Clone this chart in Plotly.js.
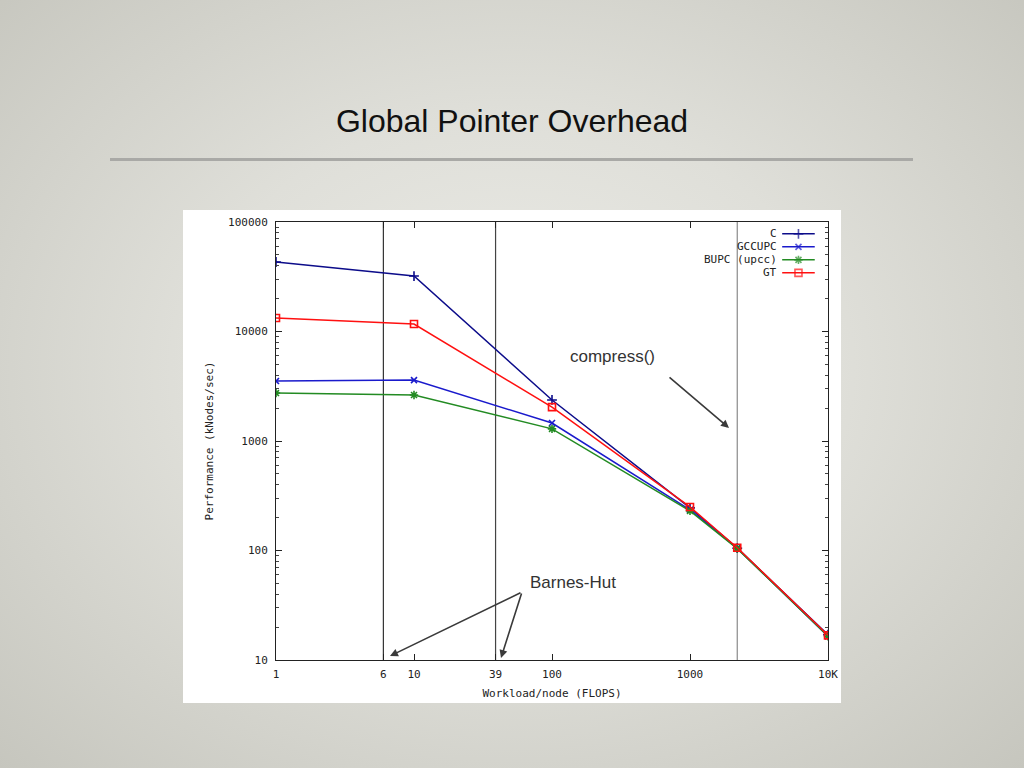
<!DOCTYPE html>
<html>
<head>
<meta charset="utf-8">
<script src="https://cdn.plot.ly/plotly-3.0.1.min.js"></script>
<style>
  html, body { margin: 0; padding: 0; }
  body {
    width: 1024px; height: 768px; overflow: hidden; position: relative;
    background: radial-gradient(ellipse at 50% 48%, #ececE7 0%, #dfdfd9 45%, #c6c6be 100%);
    font-family: "Liberation Sans", Arial, sans-serif;
  }
  #title {
    position: absolute; left: 0; width: 1024px; top: 103px;
    text-align: center; font-size: 32px; color: #111;
  }
  #rule {
    position: absolute; left: 110px; top: 158px; width: 803px; height: 3px;
    background: #a9a9a6;
  }
  #panel {
    position: absolute; left: 183px; top: 210px; width: 658px; height: 493px;
    background: #fff;
  }
</style>
</head>
<body>
<div id="title">Global Pointer Overhead</div>
<div id="rule"></div>
<div id="panel"></div>
<script>
(function () {
    'use strict';

    // workload per node (FLOPS)
    const workload = [1, 10, 100, 1000, 2200, 10000];

    // performance in kNodes/sec
    const perfC      = [43100, 32100, 2370, 245, 105, 17];
    const perfGccupc = [3530, 3600, 1460, 235, 105, 16.5];
    const perfBupc   = [2740, 2630, 1290, 230, 104, 16.5];
    const perfGT     = [13300, 11700, 2040, 250, 106, 16.8];

    const seriesNames = ['C', 'GCCUPC', 'BUPC (upcc)', 'GT'];

    // marker lines (Barnes-Hut at 6 and 39, compress() at ~2200)
    const markLines = [6, 39, 2200];
    const markColors = ['#333333', '#444444', '#8a8a8a'];

    const xTickVals = [1, 6, 10, 39, 100, 1000, 10000];
    const xTickText = ['1', '6', '10', '39', '100', '1000', '10K'];
    const yTickVals = [10, 100, 1000, 10000, 100000];
    const yTickText = ['10', '100', '1000', '10000', '100000'];

    const styles = [
        {color: '#0c0c8a', symbol: 'cross-thin-open', size: 7},
        {color: '#1a1acc', symbol: 'x-thin-open', size: 6},
        {color: '#238b23', symbol: 'asterisk-open', size: 7},
        {color: '#ff1010', symbol: 'square-open', size: 7}
    ];
    const perf = [perfC, perfGccupc, perfBupc, perfGT];

    // minor ticks 2..9 of each decade on the y axis
    const yMinor = [];
    for (let d = 10; d < 100000; d *= 10) {
        for (let k = 2; k < 10; k++) yMinor.push(k * d);
    }

    const monoFont = {family: 'DejaVu Sans Mono, monospace', size: 11, color: '#222'};

    const data = [];
    markLines.forEach(function (v, i) {
        data.push({
            x: [v, v], y: [10, 100000], mode: 'lines', type: 'scatter',
            line: {color: markColors[i], width: 1.2}, hoverinfo: 'skip', showlegend: false
        });
    });
    perf.forEach(function (ys, i) {
        data.push({
            x: workload, y: ys, name: seriesNames[i],
            mode: 'lines+markers', type: 'scatter',
            line: {color: styles[i].color, width: 1.5},
            marker: {symbol: styles[i].symbol, size: styles[i].size,
                     color: styles[i].color, line: {color: styles[i].color, width: 1.6}},
            showlegend: false
        });
    });

    // hand-made gnuplot style key: text on the left, sample on the right
    const keyTextX = 0.911, keyX0 = 0.917, keyX1 = 0.976, keyTop = 0.973, keyStep = 0.0297;
    const annotations = [];
    seriesNames.forEach(function (name, i) {
        const ky = keyTop - i * keyStep;
        data.push({
            x: [keyX0, (keyX0 + keyX1) / 2, keyX1], y: [ky, ky, ky],
            xaxis: 'x2', yaxis: 'y2', mode: 'lines+markers', type: 'scatter',
            line: {color: styles[i].color, width: 1.5},
            marker: {symbol: styles[i].symbol, size: [0, styles[i].size, 0],
                     color: styles[i].color, line: {color: styles[i].color, width: 1.6}},
            hoverinfo: 'skip', showlegend: false
        });
        annotations.push({
            xref: 'paper', yref: 'paper', x: keyTextX, y: ky,
            xanchor: 'right', yanchor: 'middle', showarrow: false,
            text: name, font: monoFont
        });
    });

    const noteFont = {family: 'Liberation Sans, Arial, sans-serif', size: 17, color: '#333'};
    annotations.push(
        {xref: 'paper', yref: 'paper', x: 0.4565, y: 0.176, xanchor: 'left', yanchor: 'middle',
         showarrow: false, text: 'Barnes-Hut', font: noteFont},
        {xref: 'paper', yref: 'paper', x: 0.2065, y: 0.009, text: '', showarrow: true,
         ax: 132, ay: -64, arrowhead: 2, arrowsize: 1, arrowwidth: 1.6, arrowcolor: '#3a3a3a'},
        {xref: 'paper', yref: 'paper', x: 0.4076, y: 0.0046, text: '', showarrow: true,
         ax: 21, ay: -66, arrowhead: 2, arrowsize: 1, arrowwidth: 1.6, arrowcolor: '#3a3a3a'},
        {xref: 'paper', yref: 'paper', x: 0.61, y: 0.692, xanchor: 'center', yanchor: 'middle',
         showarrow: false, text: 'compress()', font: noteFont},
        {xref: 'paper', yref: 'paper', x: 0.8207, y: 0.5297, text: '', showarrow: true,
         ax: -61, ay: -52, arrowhead: 2, arrowsize: 1, arrowwidth: 1.6, arrowcolor: '#3a3a3a'}
    );

    const layout = {
        width: 658, height: 493,
        margin: {l: 93, r: 13, t: 12, b: 43},
        paper_bgcolor: '#ffffff', plot_bgcolor: '#ffffff',
        showlegend: false,
        font: monoFont,
        xaxis: {
            type: 'log', range: [0, 4], tickmode: 'array',
            tickvals: xTickVals, ticktext: xTickText,
            ticks: 'inside', ticklen: 6, tickcolor: '#222', tickwidth: 1,
            ticklabelstandoff: 4,
            showgrid: false, zeroline: false,
            showline: true, linecolor: '#222', linewidth: 1, mirror: 'allticks',
            tickfont: monoFont,
            title: {text: 'Workload/node (FLOPS)', font: monoFont, standoff: 9}
        },
        yaxis: {
            type: 'log', range: [1, 5], tickmode: 'array',
            tickvals: yTickVals, ticktext: yTickText,
            ticks: 'inside', ticklen: 6, tickcolor: '#222', tickwidth: 1,
            ticklabelstandoff: 5,
            minor: {tickmode: 'array', tickvals: yMinor, ticks: 'inside', ticklen: 3,
                    tickcolor: '#444', showgrid: false},
            showgrid: false, zeroline: false,
            showline: true, linecolor: '#222', linewidth: 1, mirror: 'allticks',
            tickfont: monoFont,
            title: {text: 'Performance (kNodes/sec)', font: monoFont, standoff: 12}
        },
        xaxis2: {overlaying: 'x', anchor: 'y2', range: [0, 1], visible: false, fixedrange: true},
        yaxis2: {overlaying: 'y', anchor: 'x2', range: [0, 1], visible: false, fixedrange: true},
        annotations: annotations
    };

    window.Plotly.newPlot('panel', data, layout, {displayModeBar: false, staticPlot: true});
}());
</script>
</body>
</html>
